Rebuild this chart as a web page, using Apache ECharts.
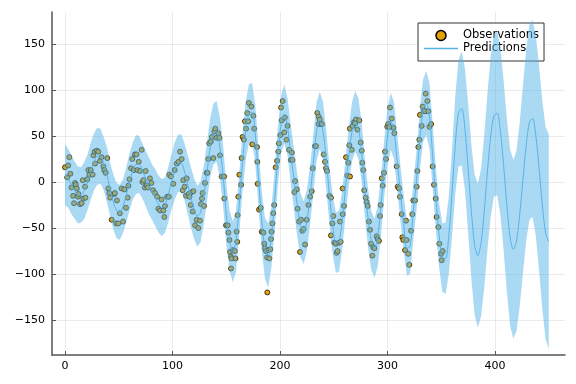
<!DOCTYPE html>
<html>
<head>
<meta charset="utf-8">
<script src="https://cdn.jsdelivr.net/npm/echarts@6/dist/echarts.min.js"></script>
<style>html,body{margin:0;padding:0;background:#fff}#c{width:576px;height:384px}</style>
</head>
<body>
<div id="c"></div>
<script>
var xTicks = [0, 100, 200, 300, 400];
var yTicks = [-150, -100, -50, 0, 50, 100, 150];

var meanX = [0,3,6,9,12,15,18,21,24,27,30,33,36,39,42,45,48,51,54,57,60,
63,66,69,72,75,78,81,84,87,90,93,96,99,102,105,108,111,114,117,120,
123,126,129,132,135,138,141,144,147,150,153,156,159,162,165,168,171,174,177,180,
183,186,189,192,195,198,201,204,207,210,213,216,219,222,225,228,231,234,237,240,
243,246,249,252,255,258,261,264,267,270,273,276,279,282,285,288,291,294,297,300,
303,306,309,312,315,318,321,324,327,330,333,336,339,342,345,348,351,354,357,360,
363,366,369,372,375,378,381,384,387,390,393,396,399,402,405,408,411,414,417,420,
423,426,429,432,435,438,441,444,447,450];

var meanY = [8,4,-3,-9,-14,-14,-9,0,12,22,28,28,20,8,-8,-22,-31,-33,-26,-14,0,
12,19,19,12,4,-4,-11,-17,-24,-28,-25,-14,0,12,20,21,12,-2,-16,-29,
-37,-33,-15,10,37,52,55,38,8,-35,-63,-76,-65,-25,20,55,74,76,52,5,
-42,-72,-80,-60,-20,28,63,74,60,30,3,-25,-47,-55,-42,-14,20,55,67,55,
25,-15,-47,-66,-64,-40,-5,28,55,66,58,32,-8,-40,-64,-72,-58,-25,15,50,
66,56,22,-12,-45,-72,-70,-32,2,45,77,86,72,28,-18,-58,-82,-83,-58,-12,
40,75,80,58,15,-32,-68,-80,-66,-32,12,50,72,75,55,18,-25,-60,-73,-64,
-35,3,40,65,69,50,15,-25,-55,-65];

var halfWidth = [33,32,32,31,31,30,31,30,31,31,31,30,29,30,29,30,30,30,29,30,31,
31,32,31,30,30,31,30,31,31,31,30,30,30,31,31,31,31,32,33,33,
33,33,32,32,32,33,33,33,33,33,33,33,33,33,32,32,32,32,32,32,
32,33,35,33,32,31,31,32,31,32,33,34,35,34,33,32,32,32,31,32,
32,31,32,33,33,32,31,31,32,33,33,32,31,32,32,32,33,32,31,31,
31,31,30,30,30,30,30,31,32,33,34,35,36,35,34,35,37,39,42,47,
53,58,62,66,70,73,76,78,80,83,85,87,88,89,91,92,94,96,97,98,
100,102,104,106,107,109,111,113,115,117];

var obsX = [0,4,3,5,2,6,7.5,8.4,9.3,10,11,12,12.5,14,15.5,16.5,17,18.6,19,20.8,21.7,22.6,24,25.7,26.4,27.6,29.5,31,28,32.6,34,35.7,36.5,37.8,39.3,40.3,41.2,42,43.4,45.8,46.4,47.7,49.6,48.3,51,52.7,54,55.2,56.7,58.3,59,60,61.4,62.6,64,65,66.5,67.4,68.6,69.8,71.3,72,73,74.3,75,76,77,79,80.4,
82,83.7,85.7,86.8,88.4,89.9,91.5,92.4,93,95,96.6,97,98.6,100.8,102,104,105.6,107,108.5,109.5,110,111.3,112.6,113.2,115,115.8,116.9,117.8,118.8,119.4,121,122.5,124,125.6,126.5,127.4,128,129.3,130.2,131.8,132.4,133.3,134.2,135.7,136.7,138,138.9,139.8,141,142.6,143.6,144.2,145.7,148,148.2,149.8,151.3,152,153,153.5,154.4,155,154.4,156.4,158,158.6,159.6,160.2,160.6,161.2,162.2,163.8,164.3,165.2,166.4,167.4,168.4,169.6,170.5,
171,173.4,175.2,176,174.2,178.6,178.9,179.2,180.5,182,183,184.5,185.4,186,187,188,189.2,190.1,191,191.6,192.2,193,193.7,194.6,188.2,196,197.3,198.4,199,200.3,201.6,201,202.5,204.5,204,207,206,208.4,211,210,211.6,214,215.6,213.4,216.4,217.7,219.6,220.8,222,218.6,223.3,224.8,226.4,228,229.5,230.4,232.6,233.5,234.7,236,237,235.9,238,239,240.6,241.9,242.8,243.7,245.9,247.4,248.7,249.6,247.4,250.5,252,252.7,253.6,254.9,256.4,255.8,258.3,
259.5,258.3,261.4,263.5,262.6,265.1,264.5,266.7,265,267.6,268.8,270.7,269.8,272,273.8,275,276,276.6,277.5,278.4,279.7,280.6,281.5,282.8,283.7,284.7,285.9,286.8,287.8,289.9,290.8,292,293,293.6,294.6,295.5,296.7,297.7,298.6,299.8,300.7,302.3,303.9,305.4,306.4,301.7,308.5,309.5,310.7,311.6,313.2,313.8,314.7,316.3,317.2,317.8,319.3,320.3,321.9,323.1,324,325.6,327.1,327.8,328.7,329.6,330.2,331.8,332.7,334,335,335.5,337,338,339,340.6,342,343.2,344.8,345.7,347.3,348.2,349.8,350.4,351.3];

var obsY = [16,27,18,9,5,-6,-15,-23,-1,-3,-7,-16,-13,-24,-23,2,-18,-5,-17,3,13,8,13,8,29,33,34,33,20,23,27,17,13,10,26,-7,-12,-17,-41,-13,-12,-45,-45,-20,-34,-7,-43,-8,-28,-17,-4,3,15,25,13,30,30,13,22,12,35,0,2,-6,12,-4,-6,4,-1,
-9,-12,-16,-29,-31,-19,-31,-38,-26,-16,-16,8,6,-2,13,20,22,33,25,-9,2,-5,-15,4,-13,-16,-25,-11,-32,-10,-47,-41,-50,-42,-24,-18,-12,-26,-1,10,10,25,42,44,49,26,55,58,48,53,48,29,6,6,-18,-47,-47,-55,-63,-76,-81,-83,-94,-74,-75,-83,-54,-65,-36,-16,8,-3,26,49,46,66,58,75,66,
86,82,72,58,41,38,22,-2,-30,-28,-54,-55,-67,-72,-75,-82,-74,-83,-73,-62,-54,-45,-34,-25,-120,16,23,33,42,51,67,81,88,70,54,61,46,35,32,24,24,1,-8,-11,-29,-43,-41,-53,-51,-76,-68,-41,-25,-16,-10,15,39,39,75,71,68,63,63,63,30,22,15,12,-15,-17,-45,-37,-58,-66,-67,-77,-75,-66,-65,-43,-35,
-26,-7,27,21,7,6,40,35,58,61,65,68,64,57,67,43,34,21,13,-9,-17,-22,-26,-43,-52,-67,-80,-71,-72,-59,-62,-64,-37,-25,4,-4,10,33,25,60,63,81,69,59,53,60,17,-5,-7,-16,-35,-60,-63,-74,-42,-63,-78,-90,-53,-35,-20,-20,-5,12,38,46,73,61,82,77,77,96,88,77,60,63,17,-3,-18,-38,-49,-67,-78,-85,-75];

var obsData = obsX.map(function (x, i) { return [x, obsY[i]]; });
var meanData = meanX.map(function (x, i) { return [x, meanY[i]]; });

var FONT = 'DejaVu Sans';
function fmt(v) { return String(v).replace('-', '\u2212'); }
var axisCol = '#555';
var gridCol = 'rgba(0,0,0,0.08)';

var chart = echarts.init(document.getElementById('c'), null, { renderer: 'canvas' });
chart.setOption({
  animation: false,
  backgroundColor: '#fff',
  grid: { left: 52, right: 11, top: 12, bottom: 29, containLabel: false },
  xAxis: {
    type: 'value', min: -12.1, max: 465.1,
    axisLine: { show: true, onZero: false, lineStyle: { color: axisCol, width: 1.5 } },
    axisTick: { show: true, inside: true, length: 4, customValues: xTicks, lineStyle: { color: axisCol, width: 1 } },
    axisLabel: { customValues: xTicks, formatter: fmt, fontFamily: FONT, fontSize: 11, color: '#000', margin: 6 },
    splitLine: { show: true, lineStyle: { color: gridCol, width: 1 } }
  },
  yAxis: {
    type: 'value', min: -188, max: 184.8,
    axisLine: { show: true, onZero: false, lineStyle: { color: axisCol, width: 1.5 } },
    axisTick: { show: true, inside: true, length: 4, customValues: yTicks, lineStyle: { color: axisCol, width: 1 } },
    axisLabel: { customValues: yTicks, formatter: fmt, fontFamily: FONT, fontSize: 11, color: '#000', margin: 7 },
    splitLine: { show: true, lineStyle: { color: gridCol, width: 1 } }
  },
  legend: {
    orient: 'vertical', left: 418, top: 23,
    padding: [6, 5, 6, 6],
    itemWidth: 34, itemHeight: 10, itemGap: 0,
    backgroundColor: '#fff', borderColor: '#333', borderWidth: 1, borderRadius: 0,
    textStyle: { fontFamily: FONT, fontSize: 11.5, color: '#000', lineHeight: 13 },
    data: [
      { name: 'Observations', icon: 'circle', itemStyle: { color: '#E69F00', borderColor: '#000', borderWidth: 1.5 } },
      { name: 'Predictions', icon: 'path://M0,0H34V1.3H0Z', itemStyle: { color: '#56B4E9', borderWidth: 0 } }
    ]
  },
  series: [
    {
      name: 'Observations', type: 'scatter', data: obsData,
      symbol: 'circle', symbolSize: 5,
      itemStyle: { color: '#E69F00', borderColor: '#000', borderWidth: 0.7, opacity: 1 },
      zlevel: 0, z: 1
    },
    {
      name: 'band', type: 'custom', silent: true, clip: true,
      data: [[0, 0]],
      renderItem: function (params, api) {
        var pts = [];
        for (var i = 0; i < meanX.length; i++) pts.push(api.coord([meanX[i], meanY[i] + halfWidth[i]]));
        for (var j = meanX.length - 1; j >= 0; j--) pts.push(api.coord([meanX[j], meanY[j] - halfWidth[j]]));
        return { type: 'polygon', z2: 100, shape: { points: pts }, style: { fill: 'rgba(86,180,233,0.5)' } };
      },
      zlevel: 0, z: 5
    },
    {
      name: 'Predictions', type: 'line', data: meanData,
      symbol: 'none', showSymbol: false, smooth: 0.3,
      lineStyle: { color: '#56B4E9', width: 1 },
      itemStyle: { color: '#56B4E9' },
      zlevel: 0, z: 6
    }
  ]
});
</script>
</body>
</html>
